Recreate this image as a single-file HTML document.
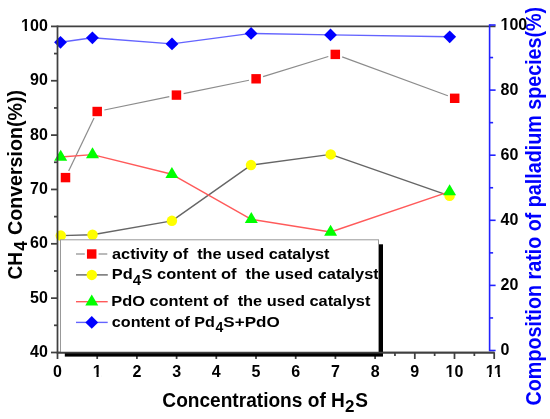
<!DOCTYPE html><html><head><meta charset="utf-8"><style>html,body{margin:0;padding:0;background:#fff;}svg{display:block}</style></head><body>
<svg width="550" height="419" viewBox="0 0 550 419">
<defs><clipPath id="lgclip"><rect x="60.5" y="239.8" width="317.6" height="112.7"/></clipPath></defs>
<rect width="550" height="419" fill="#fff"/>
<text x="47.8" y="357.05" text-anchor="end" font-size="16" font-family="Liberation Sans, Arial, sans-serif" font-weight="bold" fill="#000">40</text>
<text x="47.8" y="302.70" text-anchor="end" font-size="16" font-family="Liberation Sans, Arial, sans-serif" font-weight="bold" fill="#000">50</text>
<text x="47.8" y="248.35" text-anchor="end" font-size="16" font-family="Liberation Sans, Arial, sans-serif" font-weight="bold" fill="#000">60</text>
<text x="47.8" y="194.00" text-anchor="end" font-size="16" font-family="Liberation Sans, Arial, sans-serif" font-weight="bold" fill="#000">70</text>
<text x="47.8" y="139.65" text-anchor="end" font-size="16" font-family="Liberation Sans, Arial, sans-serif" font-weight="bold" fill="#000">80</text>
<text x="47.8" y="85.30" text-anchor="end" font-size="16" font-family="Liberation Sans, Arial, sans-serif" font-weight="bold" fill="#000">90</text>
<text x="47.8" y="30.95" text-anchor="end" font-size="16" font-family="Liberation Sans, Arial, sans-serif" font-weight="bold" fill="#000">100</text>
<text x="57.50" y="376.5" text-anchor="middle" font-size="16" font-family="Liberation Sans, Arial, sans-serif" font-weight="bold" fill="#000">0</text>
<text x="97.20" y="376.5" text-anchor="middle" font-size="16" font-family="Liberation Sans, Arial, sans-serif" font-weight="bold" fill="#000">1</text>
<text x="136.90" y="376.5" text-anchor="middle" font-size="16" font-family="Liberation Sans, Arial, sans-serif" font-weight="bold" fill="#000">2</text>
<text x="176.60" y="376.5" text-anchor="middle" font-size="16" font-family="Liberation Sans, Arial, sans-serif" font-weight="bold" fill="#000">3</text>
<text x="216.30" y="376.5" text-anchor="middle" font-size="16" font-family="Liberation Sans, Arial, sans-serif" font-weight="bold" fill="#000">4</text>
<text x="256.00" y="376.5" text-anchor="middle" font-size="16" font-family="Liberation Sans, Arial, sans-serif" font-weight="bold" fill="#000">5</text>
<text x="295.70" y="376.5" text-anchor="middle" font-size="16" font-family="Liberation Sans, Arial, sans-serif" font-weight="bold" fill="#000">6</text>
<text x="335.40" y="376.5" text-anchor="middle" font-size="16" font-family="Liberation Sans, Arial, sans-serif" font-weight="bold" fill="#000">7</text>
<text x="375.10" y="376.5" text-anchor="middle" font-size="16" font-family="Liberation Sans, Arial, sans-serif" font-weight="bold" fill="#000">8</text>
<text x="414.80" y="376.5" text-anchor="middle" font-size="16" font-family="Liberation Sans, Arial, sans-serif" font-weight="bold" fill="#000">9</text>
<text x="454.50" y="376.5" text-anchor="middle" font-size="16" font-family="Liberation Sans, Arial, sans-serif" font-weight="bold" fill="#000">10</text>
<text x="494.20" y="376.5" text-anchor="middle" font-size="16" font-family="Liberation Sans, Arial, sans-serif" font-weight="bold" fill="#000">11</text>
<text x="500.5" y="355.45" font-size="16" font-family="Liberation Sans, Arial, sans-serif" font-weight="bold" fill="#000">0</text>
<text x="500.5" y="290.35" font-size="16" font-family="Liberation Sans, Arial, sans-serif" font-weight="bold" fill="#000">20</text>
<text x="500.5" y="225.25" font-size="16" font-family="Liberation Sans, Arial, sans-serif" font-weight="bold" fill="#000">40</text>
<text x="500.5" y="160.15" font-size="16" font-family="Liberation Sans, Arial, sans-serif" font-weight="bold" fill="#000">60</text>
<text x="500.5" y="95.05" font-size="16" font-family="Liberation Sans, Arial, sans-serif" font-weight="bold" fill="#000">80</text>
<text x="500.5" y="29.95" font-size="16" font-family="Liberation Sans, Arial, sans-serif" font-weight="bold" fill="#000">100</text>
<rect x="20.60" y="28.85" width="4.23" height="2.70" fill="#fff"/><rect x="27.03" y="28.85" width="3.17" height="2.70" fill="#fff"/>
<rect x="92.25" y="374.40" width="4.23" height="2.70" fill="#fff"/><rect x="98.68" y="374.40" width="3.17" height="2.70" fill="#fff"/>
<rect x="445.10" y="374.40" width="4.23" height="2.70" fill="#fff"/><rect x="451.53" y="374.40" width="3.17" height="2.70" fill="#fff"/>
<rect x="484.80" y="374.40" width="4.23" height="2.70" fill="#fff"/><rect x="491.23" y="374.40" width="3.17" height="2.70" fill="#fff"/>
<rect x="493.70" y="374.40" width="4.23" height="2.70" fill="#fff"/><rect x="500.13" y="374.40" width="3.17" height="2.70" fill="#fff"/>
<rect x="491.23" y="374.4" width="6.70" height="2.7" fill="#fff"/>
<rect x="500.00" y="27.85" width="4.23" height="2.70" fill="#fff"/><rect x="506.43" y="27.85" width="3.17" height="2.70" fill="#fff"/>
<line x1="68.66" y1="171.02" x2="94.04" y2="118.08" stroke="#8c8c8c" stroke-width="1.2"/><line x1="104.35" y1="110.02" x2="169.30" y2="96.58" stroke="#8c8c8c" stroke-width="1.2"/><line x1="183.60" y1="93.64" x2="248.95" y2="80.26" stroke="#8c8c8c" stroke-width="1.2"/><line x1="263.08" y1="76.65" x2="328.32" y2="56.55" stroke="#8c8c8c" stroke-width="1.2"/><line x1="342.15" y1="56.92" x2="447.85" y2="95.78" stroke="#8c8c8c" stroke-width="1.2"/>
<rect x="60.75" y="172.90" width="9.5" height="9.4" fill="#ff0000"/>
<rect x="92.45" y="106.80" width="9.5" height="9.4" fill="#ff0000"/>
<rect x="171.70" y="90.40" width="9.5" height="9.4" fill="#ff0000"/>
<rect x="251.35" y="74.10" width="9.5" height="9.4" fill="#ff0000"/>
<rect x="330.55" y="49.70" width="9.5" height="9.4" fill="#ff0000"/>
<rect x="449.95" y="93.60" width="9.5" height="9.4" fill="#ff0000"/>
<polyline points="60.80,235.60 92.50,234.70 171.90,220.85 251.00,165.10 330.70,154.40 449.60,195.80" fill="none" stroke="#666" stroke-width="1.4" stroke-linejoin="round"/>
<circle cx="60.8" cy="235.6" r="5.25" fill="#ffff00"/>
<circle cx="92.5" cy="234.7" r="5.25" fill="#ffff00"/>
<circle cx="171.9" cy="220.85" r="5.25" fill="#ffff00"/>
<circle cx="251" cy="165.1" r="5.25" fill="#ffff00"/>
<circle cx="330.7" cy="154.4" r="5.25" fill="#ffff00"/>
<circle cx="449.6" cy="195.8" r="5.25" fill="#ffff00"/>
<polyline points="60.70,157.00 92.50,154.60 171.90,174.30 251.30,219.40 330.60,232.00 449.60,191.60" fill="none" stroke="#ff5a5a" stroke-width="1.4" stroke-linejoin="round"/>
<polygon points="60.70,149.70 67.20,160.70 54.20,160.70" fill="#00ff00"/>
<polygon points="92.50,147.30 99.00,158.30 86.00,158.30" fill="#00ff00"/>
<polygon points="171.90,167.00 178.40,178.00 165.40,178.00" fill="#00ff00"/>
<polygon points="251.30,212.10 257.80,223.10 244.80,223.10" fill="#00ff00"/>
<polygon points="330.60,224.70 337.10,235.70 324.10,235.70" fill="#00ff00"/>
<polygon points="449.60,184.30 456.10,195.30 443.10,195.30" fill="#00ff00"/>
<polyline points="60.50,42.30 92.40,37.80 172.00,43.90 251.10,33.40 330.50,34.90 449.70,36.80" fill="none" stroke="#6464ff" stroke-width="1.4" stroke-linejoin="round"/>
<polygon points="60.5,35.9 66.9,42.3 60.5,48.699999999999996 54.1,42.3" fill="#0000ff"/>
<polygon points="92.4,31.4 98.80000000000001,37.8 92.4,44.199999999999996 86.0,37.8" fill="#0000ff"/>
<polygon points="172,37.5 178.4,43.9 172,50.3 165.6,43.9" fill="#0000ff"/>
<polygon points="251.1,27.0 257.5,33.4 251.1,39.8 244.7,33.4" fill="#0000ff"/>
<polygon points="330.5,28.5 336.9,34.9 330.5,41.3 324.1,34.9" fill="#0000ff"/>
<polygon points="449.7,30.4 456.09999999999997,36.8 449.7,43.199999999999996 443.3,36.8" fill="#0000ff"/>
<line x1="57.5" y1="26.4" x2="495.5" y2="26.4" stroke="#404040" stroke-width="1.75"/>
<line x1="57.5" y1="352.5" x2="494.5" y2="352.5" stroke="#404040" stroke-width="1.75"/>
<line x1="57.5" y1="25.599999999999998" x2="57.5" y2="353.3" stroke="#404040" stroke-width="1.75"/>
<line x1="51.0" y1="352.50" x2="57.5" y2="352.50" stroke="#404040" stroke-width="1.75"/>
<line x1="54.0" y1="325.32" x2="57.5" y2="325.32" stroke="#404040" stroke-width="1.75"/>
<line x1="51.0" y1="298.15" x2="57.5" y2="298.15" stroke="#404040" stroke-width="1.75"/>
<line x1="54.0" y1="270.98" x2="57.5" y2="270.98" stroke="#404040" stroke-width="1.75"/>
<line x1="51.0" y1="243.80" x2="57.5" y2="243.80" stroke="#404040" stroke-width="1.75"/>
<line x1="54.0" y1="216.62" x2="57.5" y2="216.62" stroke="#404040" stroke-width="1.75"/>
<line x1="51.0" y1="189.45" x2="57.5" y2="189.45" stroke="#404040" stroke-width="1.75"/>
<line x1="54.0" y1="162.28" x2="57.5" y2="162.28" stroke="#404040" stroke-width="1.75"/>
<line x1="51.0" y1="135.10" x2="57.5" y2="135.10" stroke="#404040" stroke-width="1.75"/>
<line x1="54.0" y1="107.93" x2="57.5" y2="107.93" stroke="#404040" stroke-width="1.75"/>
<line x1="51.0" y1="80.75" x2="57.5" y2="80.75" stroke="#404040" stroke-width="1.75"/>
<line x1="54.0" y1="53.58" x2="57.5" y2="53.58" stroke="#404040" stroke-width="1.75"/>
<line x1="51.0" y1="26.40" x2="57.5" y2="26.40" stroke="#404040" stroke-width="1.75"/>
<line x1="57.50" y1="352.5" x2="57.50" y2="359.0" stroke="#404040" stroke-width="1.75"/>
<line x1="77.35" y1="352.5" x2="77.35" y2="356.0" stroke="#404040" stroke-width="1.75"/>
<line x1="97.20" y1="352.5" x2="97.20" y2="359.0" stroke="#404040" stroke-width="1.75"/>
<line x1="117.05" y1="352.5" x2="117.05" y2="356.0" stroke="#404040" stroke-width="1.75"/>
<line x1="136.90" y1="352.5" x2="136.90" y2="359.0" stroke="#404040" stroke-width="1.75"/>
<line x1="156.75" y1="352.5" x2="156.75" y2="356.0" stroke="#404040" stroke-width="1.75"/>
<line x1="176.60" y1="352.5" x2="176.60" y2="359.0" stroke="#404040" stroke-width="1.75"/>
<line x1="196.45" y1="352.5" x2="196.45" y2="356.0" stroke="#404040" stroke-width="1.75"/>
<line x1="216.30" y1="352.5" x2="216.30" y2="359.0" stroke="#404040" stroke-width="1.75"/>
<line x1="236.15" y1="352.5" x2="236.15" y2="356.0" stroke="#404040" stroke-width="1.75"/>
<line x1="256.00" y1="352.5" x2="256.00" y2="359.0" stroke="#404040" stroke-width="1.75"/>
<line x1="275.85" y1="352.5" x2="275.85" y2="356.0" stroke="#404040" stroke-width="1.75"/>
<line x1="295.70" y1="352.5" x2="295.70" y2="359.0" stroke="#404040" stroke-width="1.75"/>
<line x1="315.55" y1="352.5" x2="315.55" y2="356.0" stroke="#404040" stroke-width="1.75"/>
<line x1="335.40" y1="352.5" x2="335.40" y2="359.0" stroke="#404040" stroke-width="1.75"/>
<line x1="355.25" y1="352.5" x2="355.25" y2="356.0" stroke="#404040" stroke-width="1.75"/>
<line x1="375.10" y1="352.5" x2="375.10" y2="359.0" stroke="#404040" stroke-width="1.75"/>
<line x1="394.95" y1="352.5" x2="394.95" y2="356.0" stroke="#404040" stroke-width="1.75"/>
<line x1="414.80" y1="352.5" x2="414.80" y2="359.0" stroke="#404040" stroke-width="1.75"/>
<line x1="434.65" y1="352.5" x2="434.65" y2="356.0" stroke="#404040" stroke-width="1.75"/>
<line x1="454.50" y1="352.5" x2="454.50" y2="359.0" stroke="#404040" stroke-width="1.75"/>
<line x1="474.35" y1="352.5" x2="474.35" y2="356.0" stroke="#404040" stroke-width="1.75"/>
<line x1="494.20" y1="352.5" x2="494.20" y2="359.0" stroke="#404040" stroke-width="1.75"/>
<line x1="489.6" y1="24.2" x2="489.6" y2="351.3" stroke="#2222ff" stroke-width="1.6"/>
<line x1="489.6" y1="350.50" x2="495.6" y2="350.50" stroke="#2222ff" stroke-width="1.6"/>
<line x1="489.6" y1="317.95" x2="493.1" y2="317.95" stroke="#2222ff" stroke-width="1.6"/>
<line x1="489.6" y1="285.40" x2="495.6" y2="285.40" stroke="#2222ff" stroke-width="1.6"/>
<line x1="489.6" y1="252.85" x2="493.1" y2="252.85" stroke="#2222ff" stroke-width="1.6"/>
<line x1="489.6" y1="220.30" x2="495.6" y2="220.30" stroke="#2222ff" stroke-width="1.6"/>
<line x1="489.6" y1="187.75" x2="493.1" y2="187.75" stroke="#2222ff" stroke-width="1.6"/>
<line x1="489.6" y1="155.20" x2="495.6" y2="155.20" stroke="#2222ff" stroke-width="1.6"/>
<line x1="489.6" y1="122.65" x2="493.1" y2="122.65" stroke="#2222ff" stroke-width="1.6"/>
<line x1="489.6" y1="90.10" x2="495.6" y2="90.10" stroke="#2222ff" stroke-width="1.6"/>
<line x1="489.6" y1="57.55" x2="493.1" y2="57.55" stroke="#2222ff" stroke-width="1.6"/>
<line x1="489.6" y1="25.00" x2="495.6" y2="25.00" stroke="#2222ff" stroke-width="1.6"/>
<rect x="64.8" y="244.3" width="318.2" height="112.3" fill="#000"/>
<rect x="60.5" y="239.8" width="318" height="112.7" fill="#fff" stroke="#999" stroke-width="1"/>
<line x1="76" y1="254" x2="84.8" y2="254" stroke="#8c8c8c" stroke-width="1.2"/><line x1="98.6" y1="254" x2="107.3" y2="254" stroke="#8c8c8c" stroke-width="1.2"/>
<rect x="86.95" y="249.3" width="9.5" height="9.4" fill="#ff0000"/>
<line x1="76" y1="274.9" x2="107.8" y2="274.9" stroke="#666" stroke-width="1.4"/><circle cx="91.8" cy="274.9" r="5.25" fill="#ffff00"/>
<line x1="76" y1="301.7" x2="107.7" y2="301.7" stroke="#ff5a5a" stroke-width="1.4"/><polygon points="91.75,294.4 98.25,305.4 85.25,305.4" fill="#00ff00"/>
<line x1="76" y1="322.4" x2="107.7" y2="322.4" stroke="#6464ff" stroke-width="1.4"/><polygon points="91.75,316 98.15,322.4 91.75,328.8 85.35,322.4" fill="#0000ff"/>
<line x1="56.7" y1="352.5" x2="494.5" y2="352.5" stroke="#404040" stroke-width="1.75"/>
<text x="112.00" y="259.00" font-size="15" font-family="Liberation Sans, Arial, sans-serif" font-weight="bold" fill="#000" textLength="217.50" lengthAdjust="spacingAndGlyphs" xml:space="preserve">activity of  the used catalyst</text>
<text x="111.80" y="279.40" font-size="15" font-family="Liberation Sans, Arial, sans-serif" font-weight="bold" fill="#000" textLength="20.86" lengthAdjust="spacingAndGlyphs" xml:space="preserve">Pd</text>
<text x="132.70" y="284.80" font-size="15" font-family="Liberation Sans, Arial, sans-serif" font-weight="bold" fill="#000" xml:space="preserve">4</text>
<g clip-path="url(#lgclip)">
<text x="141.60" y="279.40" font-size="15" font-family="Liberation Sans, Arial, sans-serif" font-weight="bold" fill="#000" textLength="237.20" lengthAdjust="spacingAndGlyphs" xml:space="preserve">S content of  the used catalyst</text>
</g>
<text x="111.30" y="306.40" font-size="15" font-family="Liberation Sans, Arial, sans-serif" font-weight="bold" fill="#000" textLength="259.10" lengthAdjust="spacingAndGlyphs" xml:space="preserve">PdO content of  the used catalyst</text>
<text x="111.80" y="327.00" font-size="15" font-family="Liberation Sans, Arial, sans-serif" font-weight="bold" fill="#000" textLength="103.10" lengthAdjust="spacingAndGlyphs" xml:space="preserve">content of Pd</text>
<text x="215.40" y="332.30" font-size="14" font-family="Liberation Sans, Arial, sans-serif" font-weight="bold" fill="#000" xml:space="preserve">4</text>
<text x="223.30" y="327.00" font-size="15" font-family="Liberation Sans, Arial, sans-serif" font-weight="bold" fill="#000" textLength="56.40" lengthAdjust="spacingAndGlyphs" xml:space="preserve">S+PdO</text>
<text x="162.35" y="406.50" font-size="20" font-family="Liberation Sans, Arial, sans-serif" font-weight="bold" fill="#000" textLength="182.50" lengthAdjust="spacingAndGlyphs" xml:space="preserve">Concentrations of H</text>
<text x="345.00" y="412.30" font-size="17" font-family="Liberation Sans, Arial, sans-serif" font-weight="bold" fill="#000" xml:space="preserve">2</text>
<text x="355.20" y="406.50" font-size="20" font-family="Liberation Sans, Arial, sans-serif" font-weight="bold" fill="#000" textLength="12.70" lengthAdjust="spacingAndGlyphs" xml:space="preserve">S</text>
<text transform="translate(21.70,279.55) rotate(-90)" font-size="20" font-family="Liberation Sans, Arial, sans-serif" font-weight="bold" fill="#000" textLength="27.50" lengthAdjust="spacingAndGlyphs" xml:space="preserve">CH</text>
<text transform="translate(26.90,250.80) rotate(-90)" font-size="18" font-family="Liberation Sans, Arial, sans-serif" font-weight="bold" fill="#000" textLength="9.60" lengthAdjust="spacingAndGlyphs" xml:space="preserve">4</text>
<text transform="translate(22.00,235.00) rotate(-90)" font-size="20" font-family="Liberation Sans, Arial, sans-serif" font-weight="bold" fill="#000" textLength="145.00" lengthAdjust="spacingAndGlyphs" xml:space="preserve">Conversion(%))</text>
<text transform="translate(541.20,405.40) rotate(-90)" font-size="21.3" font-family="Liberation Sans, Arial, sans-serif" font-weight="bold" fill="#0000ff" textLength="398.60" lengthAdjust="spacingAndGlyphs" xml:space="preserve">Composition ratio of palladium species(%)</text>
</svg></body></html>
